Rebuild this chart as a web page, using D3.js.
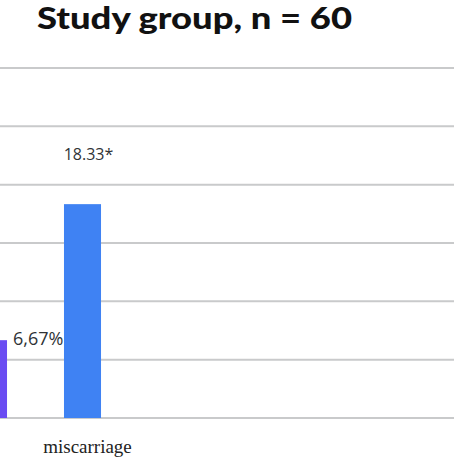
<!DOCTYPE html>
<html>
<head>
<meta charset="utf-8">
<script src="https://cdn.jsdelivr.net/npm/d3@7"></script>
<style>
  html, body { margin: 0; padding: 0; background: #fff; }
</style>
</head>
<body>
<svg id="chart" width="474" height="474"></svg>
<script>
// categories (the first one is cut off at the left edge of the crop)
var categories = ["other", "miscarriage"];
var categoryLabels = ["", "miscarriage"];
var values = [6.67, 18.33];
var valueLabels = ["6,67%", "18.33*"];
var barColors = ["#6a4cf2", "#3f82f3"];
var yTicks = [0, 5, 10, 15, 20, 25, 30];
var title = "Study group, n = 60";

var svg = d3.select("#chart");

var x = d3.scaleBand()
    .domain(categories)
    .range([-58.5, 129.5])
    .paddingInner(0.606)
    .paddingOuter(0.303);

var y = d3.scaleLinear()
    .domain([0, 30])
    .range([418, 68]);

// gridlines
svg.append("g")
    .selectAll("line")
    .data(yTicks)
    .enter().append("line")
      .attr("x1", 0)
      .attr("x2", 454)
      .attr("y1", function(d) { return y(d); })
      .attr("y2", function(d) { return y(d); })
      .attr("stroke", "#c9cacb")
      .attr("stroke-width", 2);

// bars
svg.append("g")
    .selectAll("rect")
    .data(values)
    .enter().append("rect")
      .attr("x", function(d, i) { return x(categories[i]); })
      .attr("y", function(d) { return y(d); })
      .attr("width", x.bandwidth())
      .attr("height", function(d) { return y(0) - y(d); })
      .attr("fill", function(d, i) { return barColors[i]; });

// value labels
svg.append("text")
    .attr("x", x(categories[0]) + x.bandwidth() + 6)
    .attr("y", y(values[0]) + 5)
    .attr("font-family", "Open Sans, sans-serif")
    .attr("font-size", 18)
    .attr("fill", "#2f3336")
    .text(valueLabels[0]);

svg.append("text")
    .attr("x", x(categories[1]) + x.bandwidth() / 2 + 6)
    .attr("y", y(values[1]) - 44)
    .attr("text-anchor", "middle")
    .attr("font-family", "Open Sans, sans-serif")
    .attr("font-size", 16)
    .attr("fill", "#2f3336")
    .text(valueLabels[1]);

// category labels
svg.append("g")
    .selectAll("text")
    .data(categoryLabels)
    .enter().append("text")
      .attr("x", function(d, i) { return x(categories[i]) + x.bandwidth() / 2 + 5; })
      .attr("y", 453)
      .attr("text-anchor", "middle")
      .attr("font-family", "Liberation Serif, serif")
      .attr("font-size", 19)
      .attr("fill", "#222")
      .text(function(d) { return d; });

// title
svg.append("text")
    .attr("x", 37)
    .attr("y", 29)
    .attr("font-family", "Lato, sans-serif")
    .attr("font-weight", 900)
    .attr("font-size", 30)
    .attr("fill", "#111")
    .attr("textLength", 315)
    .attr("lengthAdjust", "spacingAndGlyphs")
    .text(title);
</script>
</body>
</html>
